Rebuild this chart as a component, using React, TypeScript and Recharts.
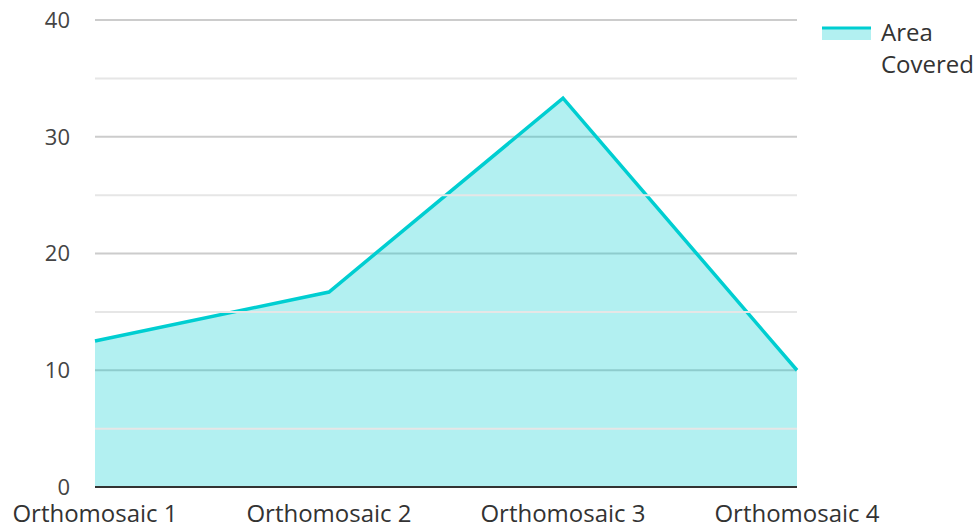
import { AreaChart, Area, XAxis, YAxis, CartesianGrid, ReferenceLine, Legend } from "recharts";

const categories = ["Orthomosaic 1", "Orthomosaic 2", "Orthomosaic 3", "Orthomosaic 4"];
const areaCovered = [12.5, 16.7, 33.3, 10.0];
const majorTicks = [0, 10, 20, 30, 40];
const minorTicks = [5, 15, 25, 35];

const data = categories.map((name, i) => ({ name, area: areaCovered[i] }));

const FONT = "'Open Sans', sans-serif";
const CYAN = "#00CED1";

function LegendContent(props: any) {
  const payload = props.payload || [];
  return (
    <div style={{ fontFamily: FONT }}>
      {payload.map((p: any, i: number) => (
        <div key={i} style={{ display: "flex", alignItems: "flex-start" }}>
          <svg width={52} height={26} style={{ marginTop: 0 }}>
            <rect x={2} y={12} width={50} height={12} fill={CYAN} fillOpacity={0.3} />
            <line x1={2} x2={52} y1={12} y2={12} stroke={CYAN} strokeWidth={3} />
          </svg>
          <div style={{ width: 100, marginLeft: 10, fontSize: 24, lineHeight: "32px", color: "#333" }}>
            {p.value}
          </div>
        </div>
      ))}
    </div>
  );
}

export default function App() {
  return (
    <div>
      <style>{`body{margin:0}`}</style>
      <AreaChart
        width={979}
        height={529}
        data={data}
        margin={{ top: 20, right: 23, left: 0, bottom: 0 }}
        style={{ fontFamily: FONT }}
      >
        <CartesianGrid vertical={false} stroke="#cccccc" strokeWidth={2} />
        {minorTicks.map((v) => (
          <ReferenceLine key={v} y={v} stroke="#e6e6e6" strokeWidth={2} />
        ))}
        <XAxis
          dataKey="name"
          interval={0}
          tickLine={false}
          axisLine={{ stroke: "#333", strokeWidth: 2 }}
          tick={{ fill: "#333", fontSize: 24 }}
          tickMargin={12}
          height={42}
        />
        <YAxis
          domain={[0, 40]}
          ticks={majorTicks}
          tickLine={false}
          axisLine={false}
          tick={{ fill: "#444", fontSize: 22 }}
          tickMargin={19}
          width={95}
        />
        <Legend
          layout="vertical"
          align="right"
          verticalAlign="top"
          content={LegendContent}
          wrapperStyle={{ top: 16, left: 820, width: 159 }}
        />
        <Area
          type="linear"
          dataKey="area"
          name="Area Covered"
          stroke={CYAN}
          strokeWidth={3.5}
          fill={CYAN}
          fillOpacity={0.3}
          dot={false}
          activeDot={false}
          isAnimationActive={false}
        />
      </AreaChart>
    </div>
  );
}
